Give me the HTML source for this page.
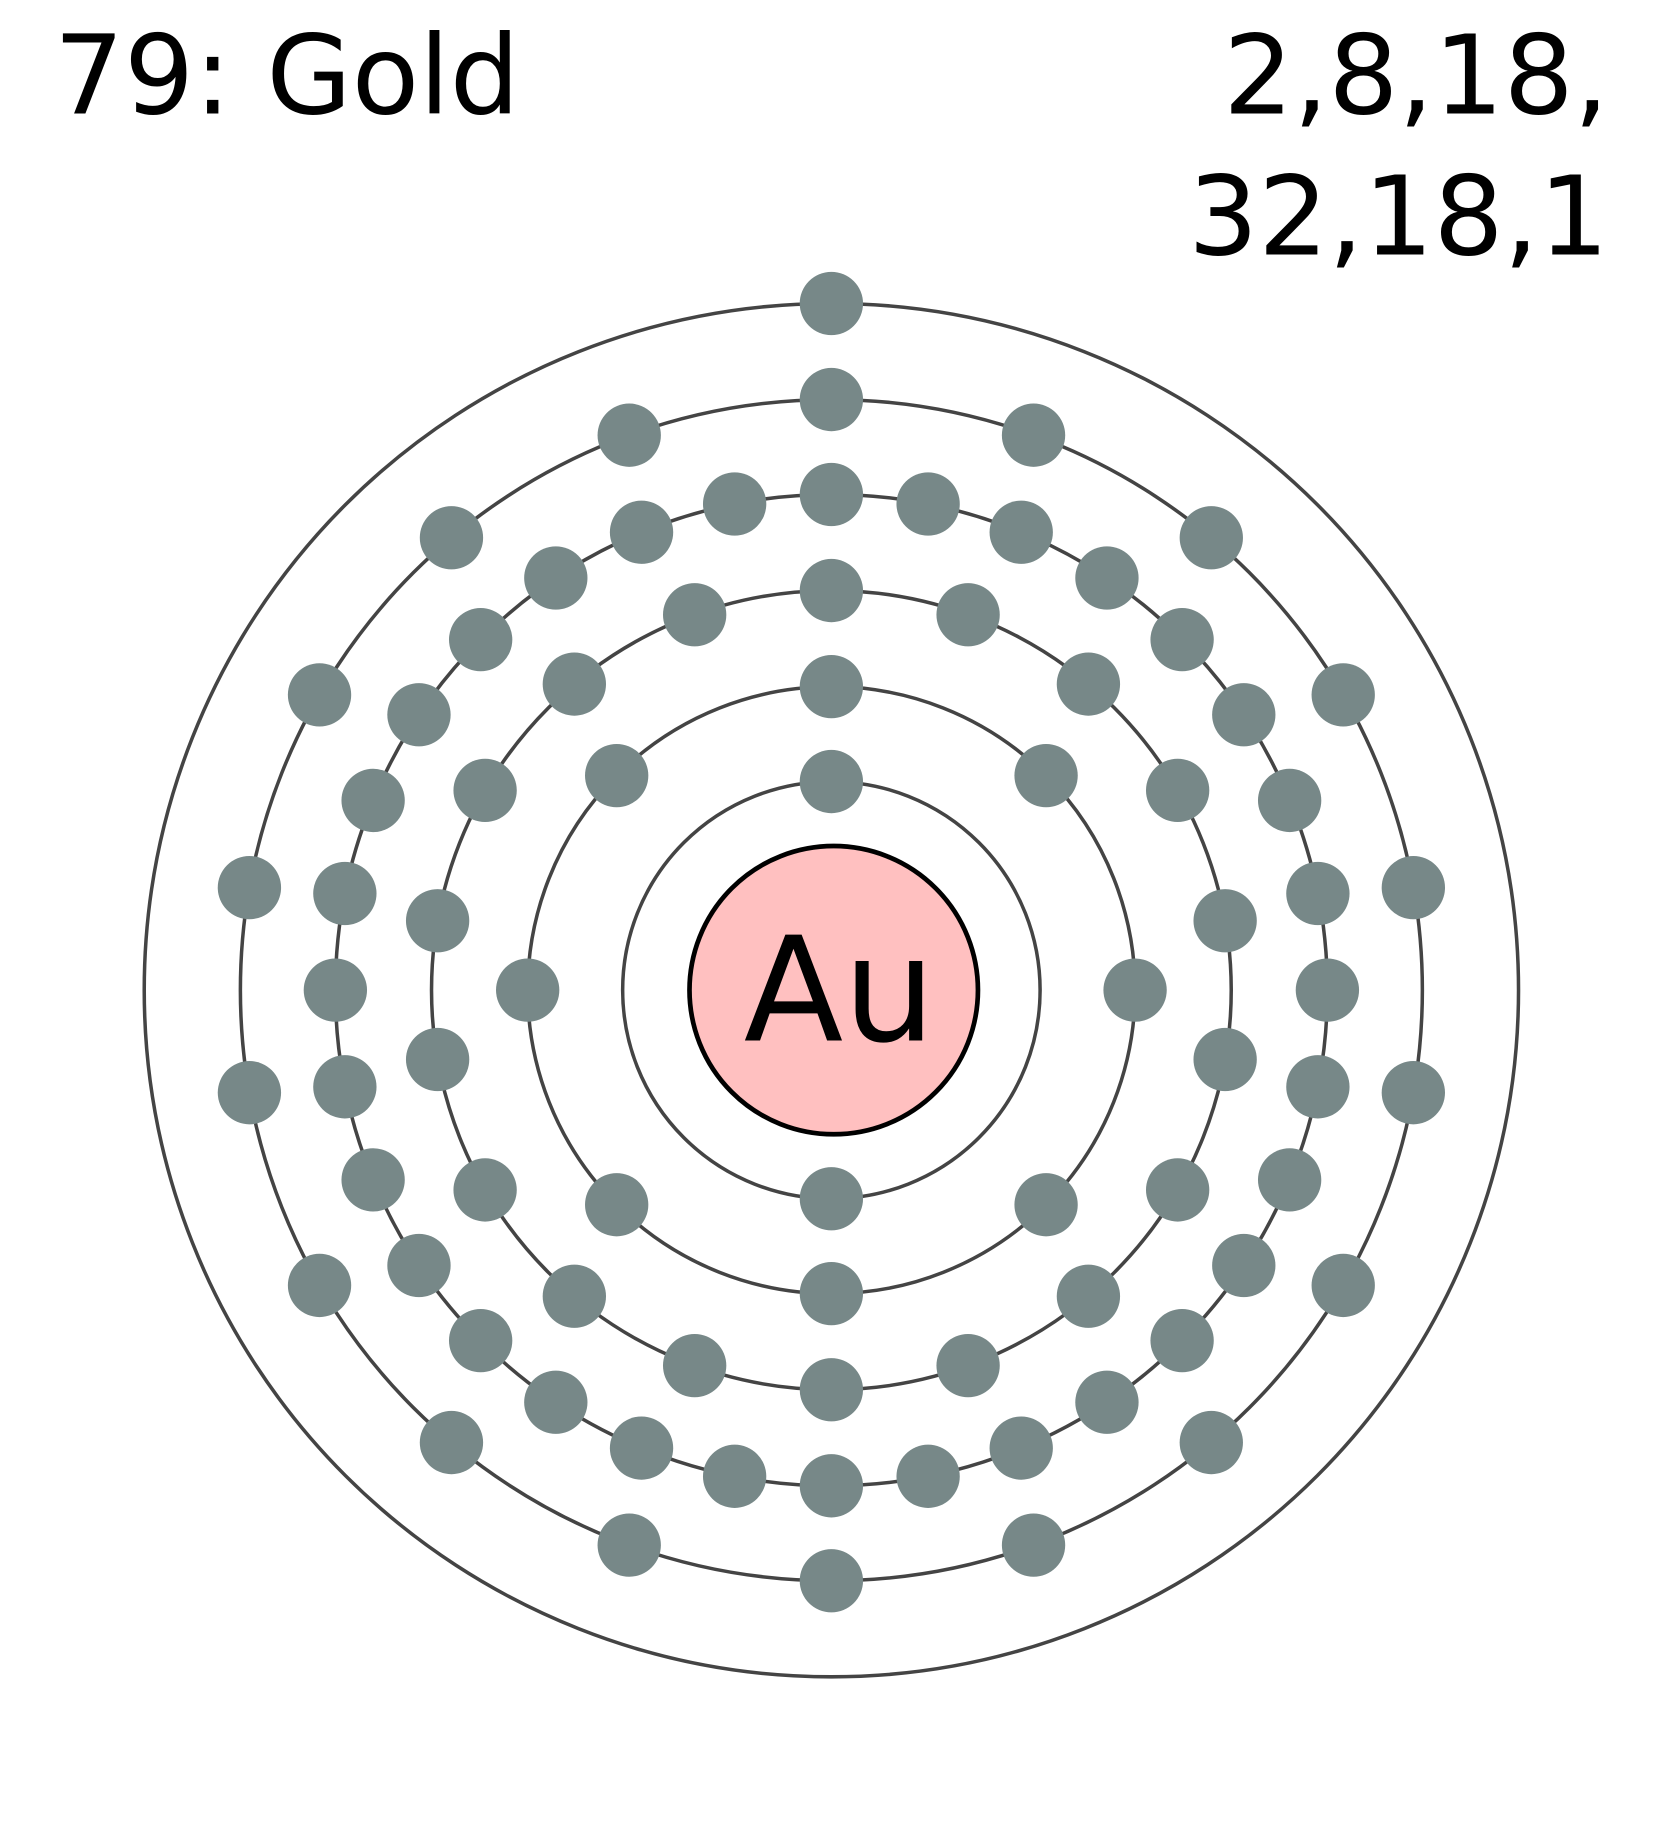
<!DOCTYPE html>
<html><head><meta charset="utf-8"><style>html,body{margin:0;padding:0;background:#fff}svg{display:block}</style></head>
<body>
<svg id="s" width="1678" height="1835" viewBox="0 0 1431 1566" preserveAspectRatio="none" xmlns="http://www.w3.org/2000/svg">
<rect width="1431" height="1566" fill="#fff"/>
<g fill="none" stroke="#444" stroke-width="3">
<circle cx="709" cy="845" r="178"/>
<circle cx="709" cy="845" r="259"/>
<circle cx="709" cy="845" r="341"/>
<circle cx="709" cy="845" r="423"/>
<circle cx="709" cy="845" r="504"/>
<circle cx="709" cy="845" r="586"/>
</g>
<circle cx="711" cy="845" r="123" fill="#ffc0c0" stroke="#000" stroke-width="4"/>
<g id="e" fill="#778888"></g>
<text x="46" y="97" font-family="DejaVu Sans, Liberation Sans, sans-serif" font-size="94">79: Gold</text>
<text x="1372" y="97" text-anchor="end" font-family="DejaVu Sans, Liberation Sans, sans-serif" font-size="94">2,8,18,</text>
<text x="1372" y="217" text-anchor="end" font-family="DejaVu Sans, Liberation Sans, sans-serif" font-size="94">32,18,1</text>
<text x="716" y="888" text-anchor="middle" font-family="DejaVu Sans, Liberation Sans, sans-serif" font-size="124">Au</text>
</svg>
<script>
var g=document.getElementById('e'),sh=[[178,2],[259,8],[341,18],[423,32],[504,18],[586,1]],h='';
sh.forEach(function(s){for(var i=0;i<s[1];i++){var a=2*Math.PI*i/s[1];h+='<circle cx="'+(709+s[0]*Math.sin(a)).toFixed(1)+'" cy="'+(845-s[0]*Math.cos(a)).toFixed(1)+'" r="27"/>';}});
g.innerHTML=h;
</script>
</body></html>
